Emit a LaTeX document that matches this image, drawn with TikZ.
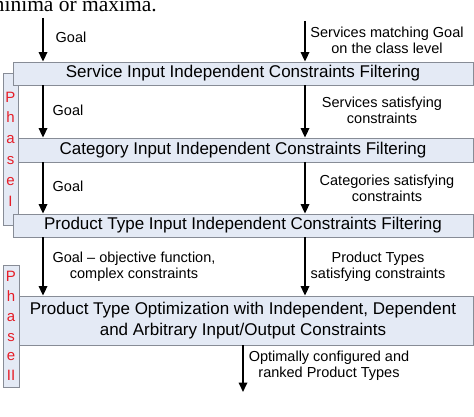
\documentclass[tikz,border=0pt]{standalone}
\usepackage{fontspec}
\setmainfont{Liberation Sans}
\newfontfamily\serifface{Liberation Serif}
\usetikzlibrary{arrows.meta}
\definecolor{boxfill}{RGB}{228,234,245}
\definecolor{boxline}{RGB}{135,140,150}
\definecolor{phasered}{RGB}{230,30,40}
\begin{document}
\begin{tikzpicture}[x=1pt,y=-1pt,
  box/.style={draw=boxline,fill=boxfill,line width=0.8pt,minimum width=460pt,inner sep=0pt,font=\fontsize{17}{20.7}\selectfont,align=center},
  phase/.style={draw=boxline,fill=boxfill,line width=0.8pt,inner sep=0pt,text=phasered,align=center},
  lbl/.style={font=\fontsize{14.5}{16}\selectfont,align=center,inner sep=0pt},
  flow/.style={line width=1.7pt,-{Triangle[width=8.5pt,length=9.5pt]}}]
\useasboundingbox (0,0) rectangle (474,417);
\clip (0,0) rectangle (474,417);
\node[anchor=base east,font=\serifface\fontsize{21.5}{24}\selectfont,inner sep=0pt] (top) at (157,11.5) {minima or maxima.};

\node[box,minimum height=24pt] (cat) at (243,150) {Category Input Independent Constraints Filtering};
\node[box,minimum height=49pt] (opt) at (243,320.5) {Product Type Optimization with Independent, Dependent\\and Arbitrary Input/Output Constraints};
\node[phase,minimum width=15pt,minimum height=152pt,font=\fontsize{15}{20.8}\selectfont] (ph1) at (10.5,149) {P\\h\\a\\s\\e\\I};
\node[phase,minimum width=16pt,minimum height=122pt,font=\fontsize{15}{19.8}\selectfont] (ph2) at (11,326) {P\\h\\a\\s\\e\\II};
\node[box,minimum height=23pt] (svc) at (243,73.5) {Service Input Independent Constraints Filtering};
\node[box,minimum height=23pt] (pt) at (243,225.5) {Product Type Input Independent Constraints Filtering};

\coordinate (L) at (43,0);
\coordinate (R) at (305,0);
\coordinate (M) at (243,0);
\coordinate (s1) at (43,18);
\coordinate (s2) at (305,21);
\coordinate (e5) at (243,392);

\draw[flow] (s1) -- (s1 |- svc.north);
\draw[flow] (s2) -- (s2 |- svc.north);
\draw[flow] (svc.south -| L) -- (cat.north -| L);
\draw[flow] (svc.south -| R) -- (cat.north -| R);
\draw[flow] (cat.south -| L) -- (pt.north -| L);
\draw[flow] (cat.south -| R) -- (pt.north -| R);
\draw[flow] (pt.south -| L) -- (opt.north -| L);
\draw[flow] (pt.south -| R) -- (opt.north -| R);
\draw[flow] (opt.south -| M) -- (e5);

\node[lbl] (g1) at (71,37) {Goal};
\node[lbl] (r1) at (387,40) {Services matching Goal\\on the class level};
\node[lbl] (g2) at (68,110) {Goal};
\node[lbl] (r2) at (382,110.5) {Services satisfying\\constraints};
\node[lbl] (g3) at (68,186) {Goal};
\node[lbl] (r3) at (387,188.5) {Categories satisfying\\constraints};
\node[lbl] (g4) at (134,266.5) {Goal -- objective function,\\complex constraints};
\node[lbl] (r4) at (378,266.5) {Product Types\\satisfying constraints};
\node[lbl] (r5) at (329,366) {Optimally configured and\\ranked Product Types};
\end{tikzpicture}
\end{document}
